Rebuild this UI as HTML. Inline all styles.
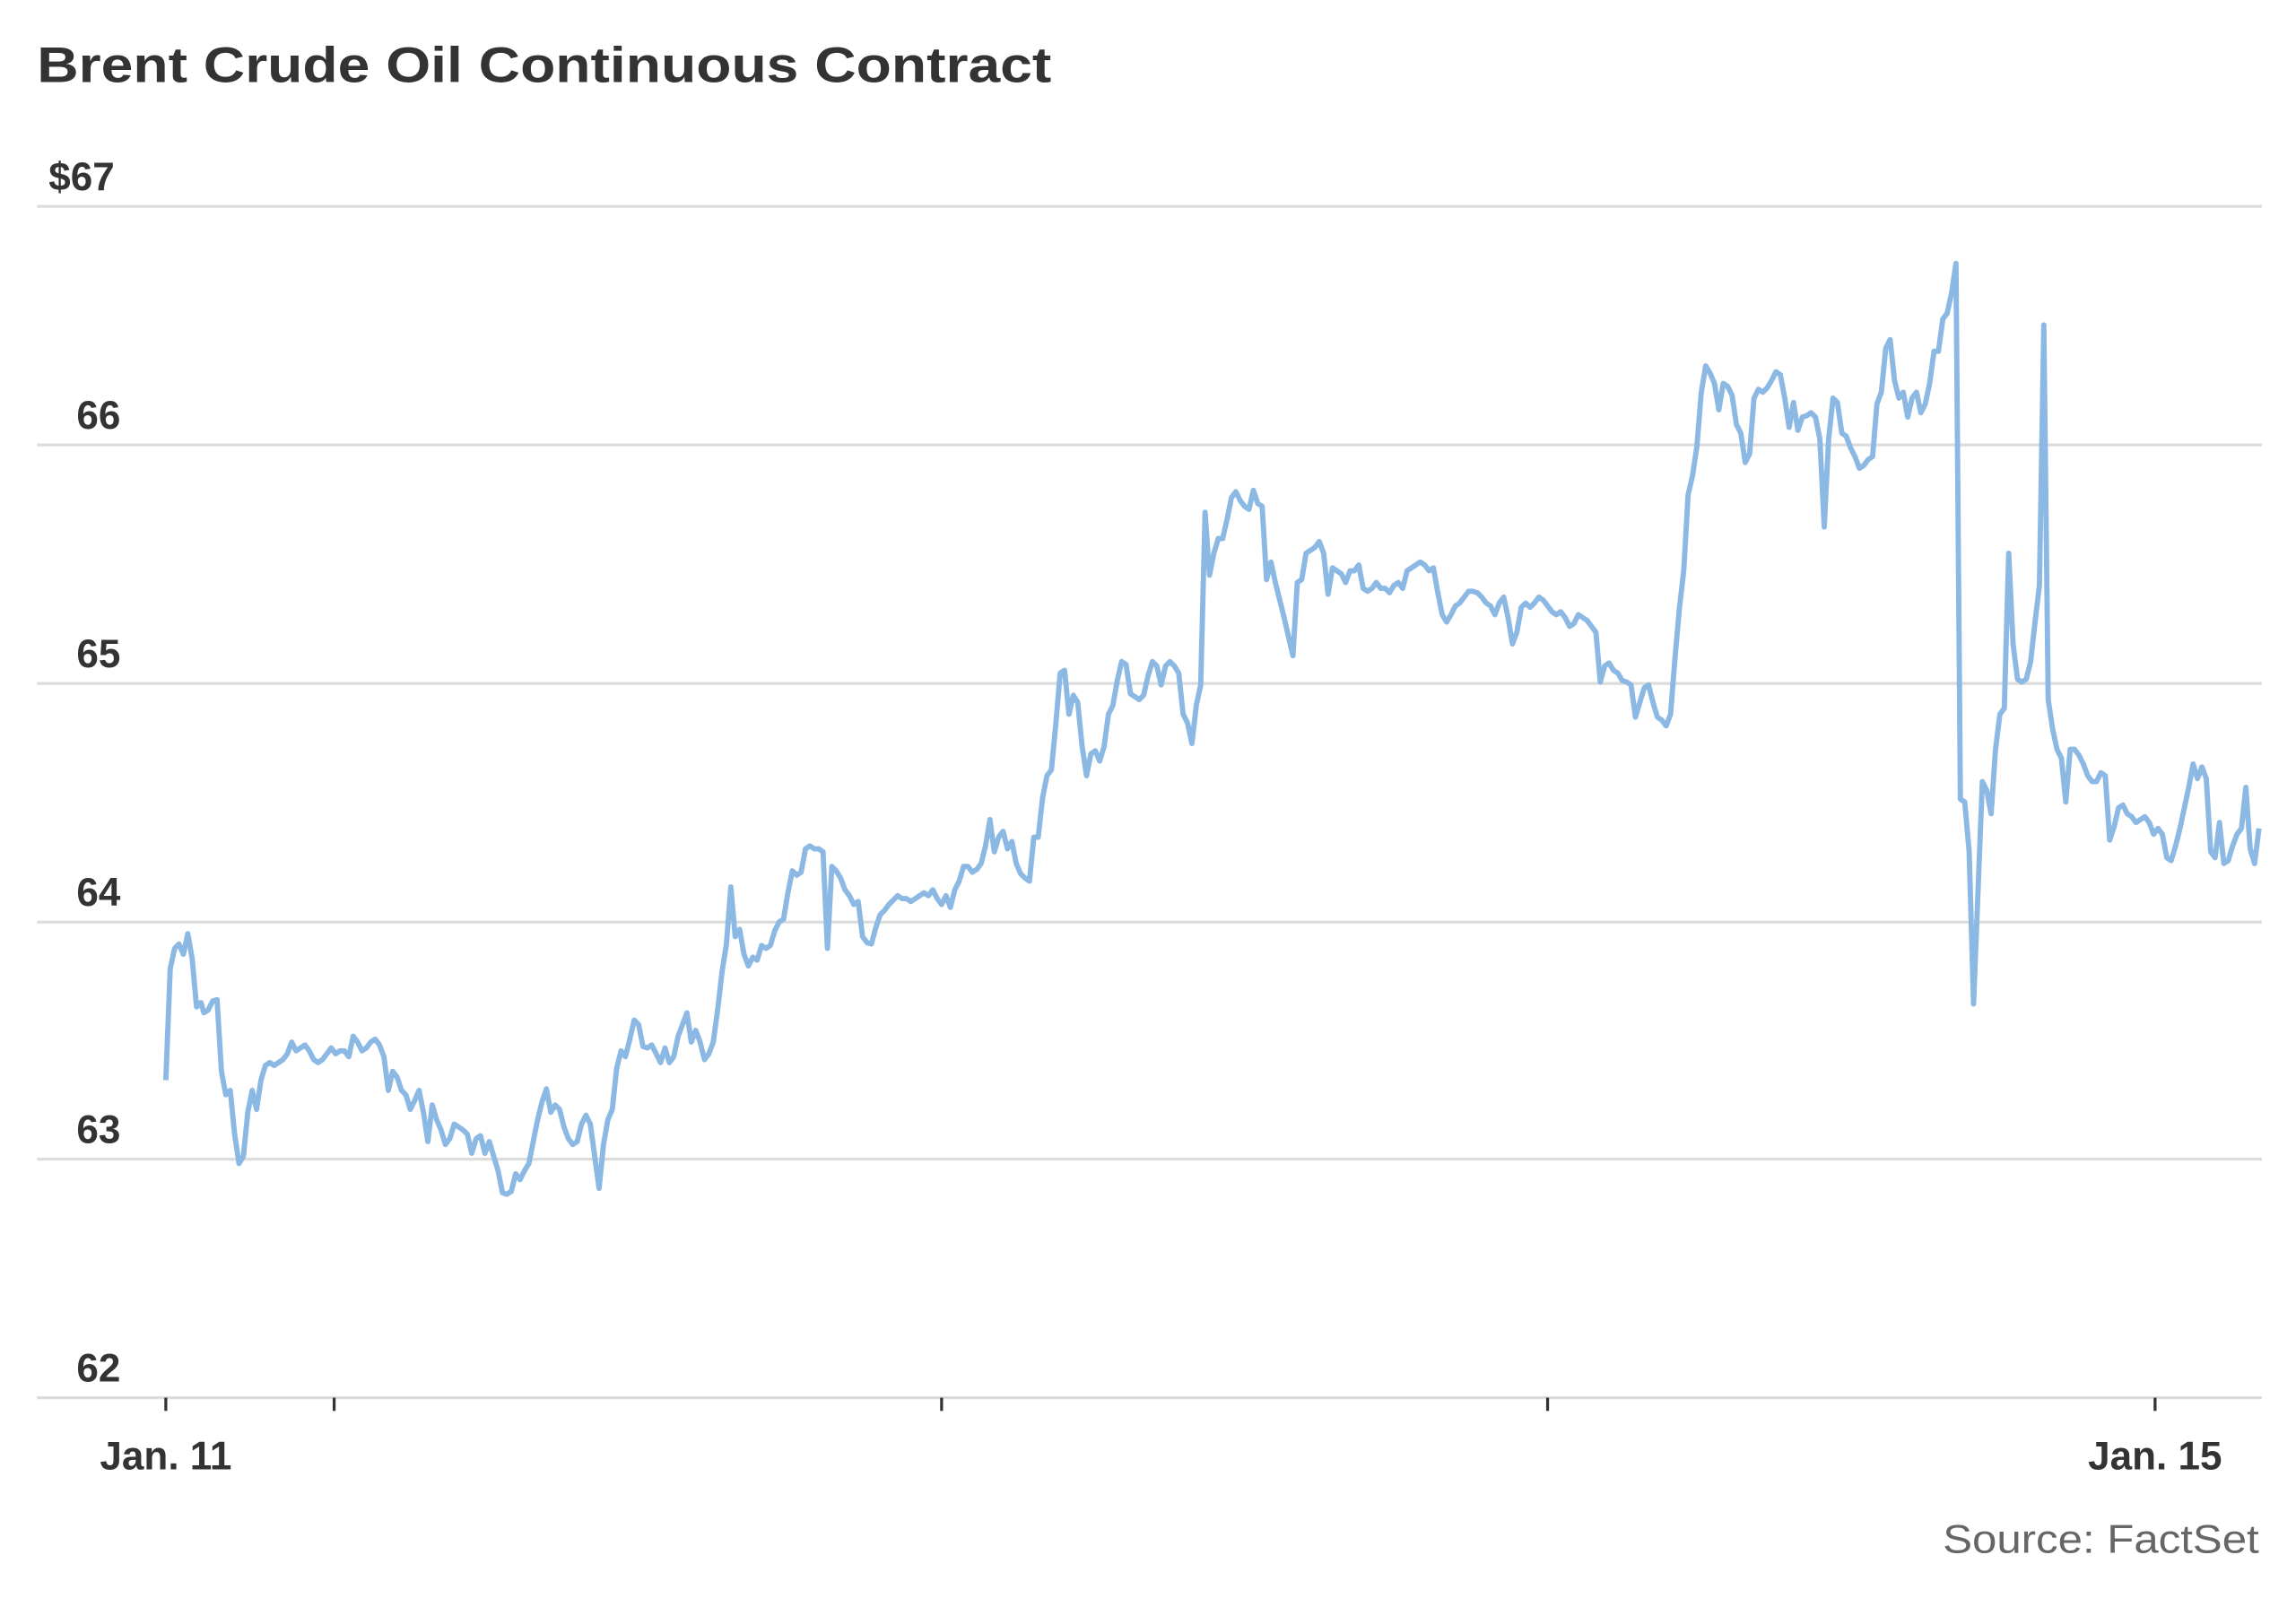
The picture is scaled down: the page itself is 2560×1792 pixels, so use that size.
<!DOCTYPE html>
<html><head><meta charset="utf-8"><style>
html,body{margin:0;padding:0;background:#fff;width:2560px;height:1792px;overflow:hidden}
svg{display:block}
text{font-family:"Liberation Sans",sans-serif}
</style></head><body>
<svg width="2560" height="1792" viewBox="0 0 1568 1098" xmlns="http://www.w3.org/2000/svg">
<text x="25" y="56" font-size="34" font-weight="bold" fill="#333" textLength="693" lengthAdjust="spacingAndGlyphs">Brent Crude Oil Continuous Contract</text>
<g stroke="#dcdcdc" stroke-width="2">
<line x1="25" y1="141" x2="1545" y2="141"/>
<line x1="25" y1="304" x2="1545" y2="304"/>
<line x1="25" y1="467" x2="1545" y2="467"/>
<line x1="25" y1="630" x2="1545" y2="630"/>
<line x1="25" y1="792" x2="1545" y2="792"/>
<line x1="25" y1="955" x2="1545" y2="955"/>
</g>
<g stroke="#333" stroke-width="2">
<line x1="113" y1="955" x2="113" y2="964"/>
<line x1="228" y1="955" x2="228" y2="964"/>
<line x1="643" y1="955" x2="643" y2="964"/>
<line x1="1057" y1="955" x2="1057" y2="964"/>
<line x1="1472" y1="955" x2="1472" y2="964"/>
</g>
<g font-size="27" font-weight="bold" fill="#333">
<text x="33" y="130">$67</text>
<text x="52" y="293">66</text>
<text x="52" y="456">65</text>
<text x="52" y="619">64</text>
<text x="52" y="781">63</text>
<text x="52" y="944">62</text>
<text x="113" y="1004" text-anchor="middle">Jan. 11</text>
<text x="1472" y="1004" text-anchor="middle">Jan. 15</text>
</g>
<text x="1327" y="1061" font-size="27" fill="#666" textLength="216" lengthAdjust="spacingAndGlyphs">Source: FactSet</text>
<polyline fill="none" stroke="#8cb8e4" stroke-width="3.6" stroke-linejoin="round" points="113,738 116,662 119,648 122,645 125,652 128,638 131,655 134,688 137,685 139,692 142,690 145,684 148,683 151,732 154,748 157,745 160,775 163,795 166,790 169,760 172,745 175,758 178,738 181,728 184,726 187,728 190,726 193,724 196,720 199,712 202,718 205,716 208,714 211,718 214,724 217,726 220,724 223,720 226,716 229,720 232,718 235,718 238,722 241,708 244,712 247,718 250,716 253,712 256,710 259,714 262,722 265,745 268,732 271,736 274,745 277,748 280,758 283,752 286,745 289,760 292,780 295,755 298,765 301,772 304,782 307,778 310,768 313,770 316,772 319,775 322,788 325,778 328,776 331,788 334,780 337,790 340,800 343,815 346,816 349,814 352,802 355,806 358,800 361,795 364,780 367,765 370,753 373,744 376,760 379,755 382,758 385,770 388,778 391,782 394,780 397,768 400,762 403,768 406,790 409,812 412,782 415,765 418,758 421,730 424,718 427,722 430,710 433,697 436,700 439,715 442,716 445,714 448,720 451,726 454,716 457,726 460,722 463,708 466,700 469,692 472,712 475,704 478,712 481,724 484,720 487,712 490,690 493,664 496,645 499,606 502,640 505,635 508,652 511,660 514,654 517,656 520,646 523,648 526,646 529,636 532,630 535,628 538,610 541,595 544,598 547,596 550,580 553,578 556,580 559,580 562,582 565,648 568,592 571,595 574,600 577,608 580,612 583,618 586,616 589,640 592,644 595,645 598,634 601,625 604,622 607,618 610,615 613,612 616,614 619,614 622,616 625,614 628,612 631,610 634,612 637,608 640,614 643,618 646,612 649,620 652,608 655,602 658,592 661,592 664,596 667,594 670,590 673,578 676,560 679,582 682,572 685,568 688,580 691,575 694,590 697,597 700,600 703,602 706,572 709,572 712,545 715,530 718,526 721,495 724,460 727,458 730,488 733,475 736,480 739,510 742,530 745,515 748,513 751,520 754,510 757,488 760,482 763,465 766,452 769,454 772,474 775,476 778,478 781,475 784,462 787,452 790,455 793,468 796,455 799,452 802,455 805,460 808,488 811,494 814,508 817,482 820,468 823,350 826,393 829,378 832,368 835,368 838,355 841,340 844,336 847,342 850,346 853,348 856,335 859,344 862,346 865,396 868,384 871,398 874,410 877,422 880,435 883,448 886,398 889,396 892,378 895,376 898,374 901,370 904,378 907,406 910,388 913,390 916,392 919,398 922,390 925,390 928,386 931,402 934,404 937,402 940,398 943,402 946,402 949,405 952,400 955,398 958,402 961,390 964,388 967,386 970,384 973,386 976,390 979,388 982,405 985,420 988,425 991,420 994,414 997,412 1000,408 1003,404 1006,404 1009,405 1012,408 1015,412 1018,414 1021,420 1024,412 1027,408 1030,422 1033,440 1036,432 1039,415 1042,412 1045,415 1048,412 1051,408 1054,410 1057,414 1060,418 1063,420 1066,418 1069,422 1072,428 1075,426 1078,420 1081,422 1084,424 1087,428 1090,432 1093,466 1096,455 1099,453 1102,458 1105,460 1108,465 1111,466 1114,468 1117,490 1120,480 1123,470 1126,468 1129,480 1132,490 1135,492 1138,496 1141,488 1144,450 1147,416 1150,390 1153,338 1156,325 1159,305 1162,268 1165,250 1168,255 1171,262 1174,280 1177,262 1180,264 1183,270 1186,290 1189,296 1192,316 1195,310 1198,272 1201,266 1204,268 1207,265 1210,260 1213,254 1216,256 1219,272 1222,292 1225,275 1228,294 1231,285 1234,284 1237,282 1240,285 1243,300 1246,360 1249,300 1252,272 1255,275 1258,296 1261,298 1264,306 1267,312 1270,320 1273,318 1276,314 1279,312 1282,276 1285,268 1288,238 1291,232 1294,260 1297,272 1300,268 1303,285 1306,272 1309,268 1312,282 1315,276 1318,262 1321,240 1324,240 1327,218 1330,214 1333,200 1336,180 1339,546 1342,548 1345,582 1348,686 1351,610 1354,534 1357,540 1360,556 1363,512 1366,488 1369,484 1372,378 1375,440 1378,464 1381,466 1384,464 1387,452 1390,425 1393,400 1396,222 1399,478 1402,498 1405,512 1408,518 1411,548 1414,512 1417,512 1420,516 1423,522 1426,530 1429,534 1432,534 1435,528 1438,530 1441,574 1444,565 1447,552 1450,550 1453,556 1456,558 1459,562 1462,560 1465,558 1468,562 1471,570 1474,566 1477,570 1480,586 1483,588 1486,578 1489,566 1492,552 1495,538 1498,522 1501,532 1504,524 1507,532 1510,582 1513,586 1516,562 1519,590 1522,588 1525,578 1528,570 1531,566 1534,538 1537,580 1540,590 1543,566"/>
</svg>
</body></html>
